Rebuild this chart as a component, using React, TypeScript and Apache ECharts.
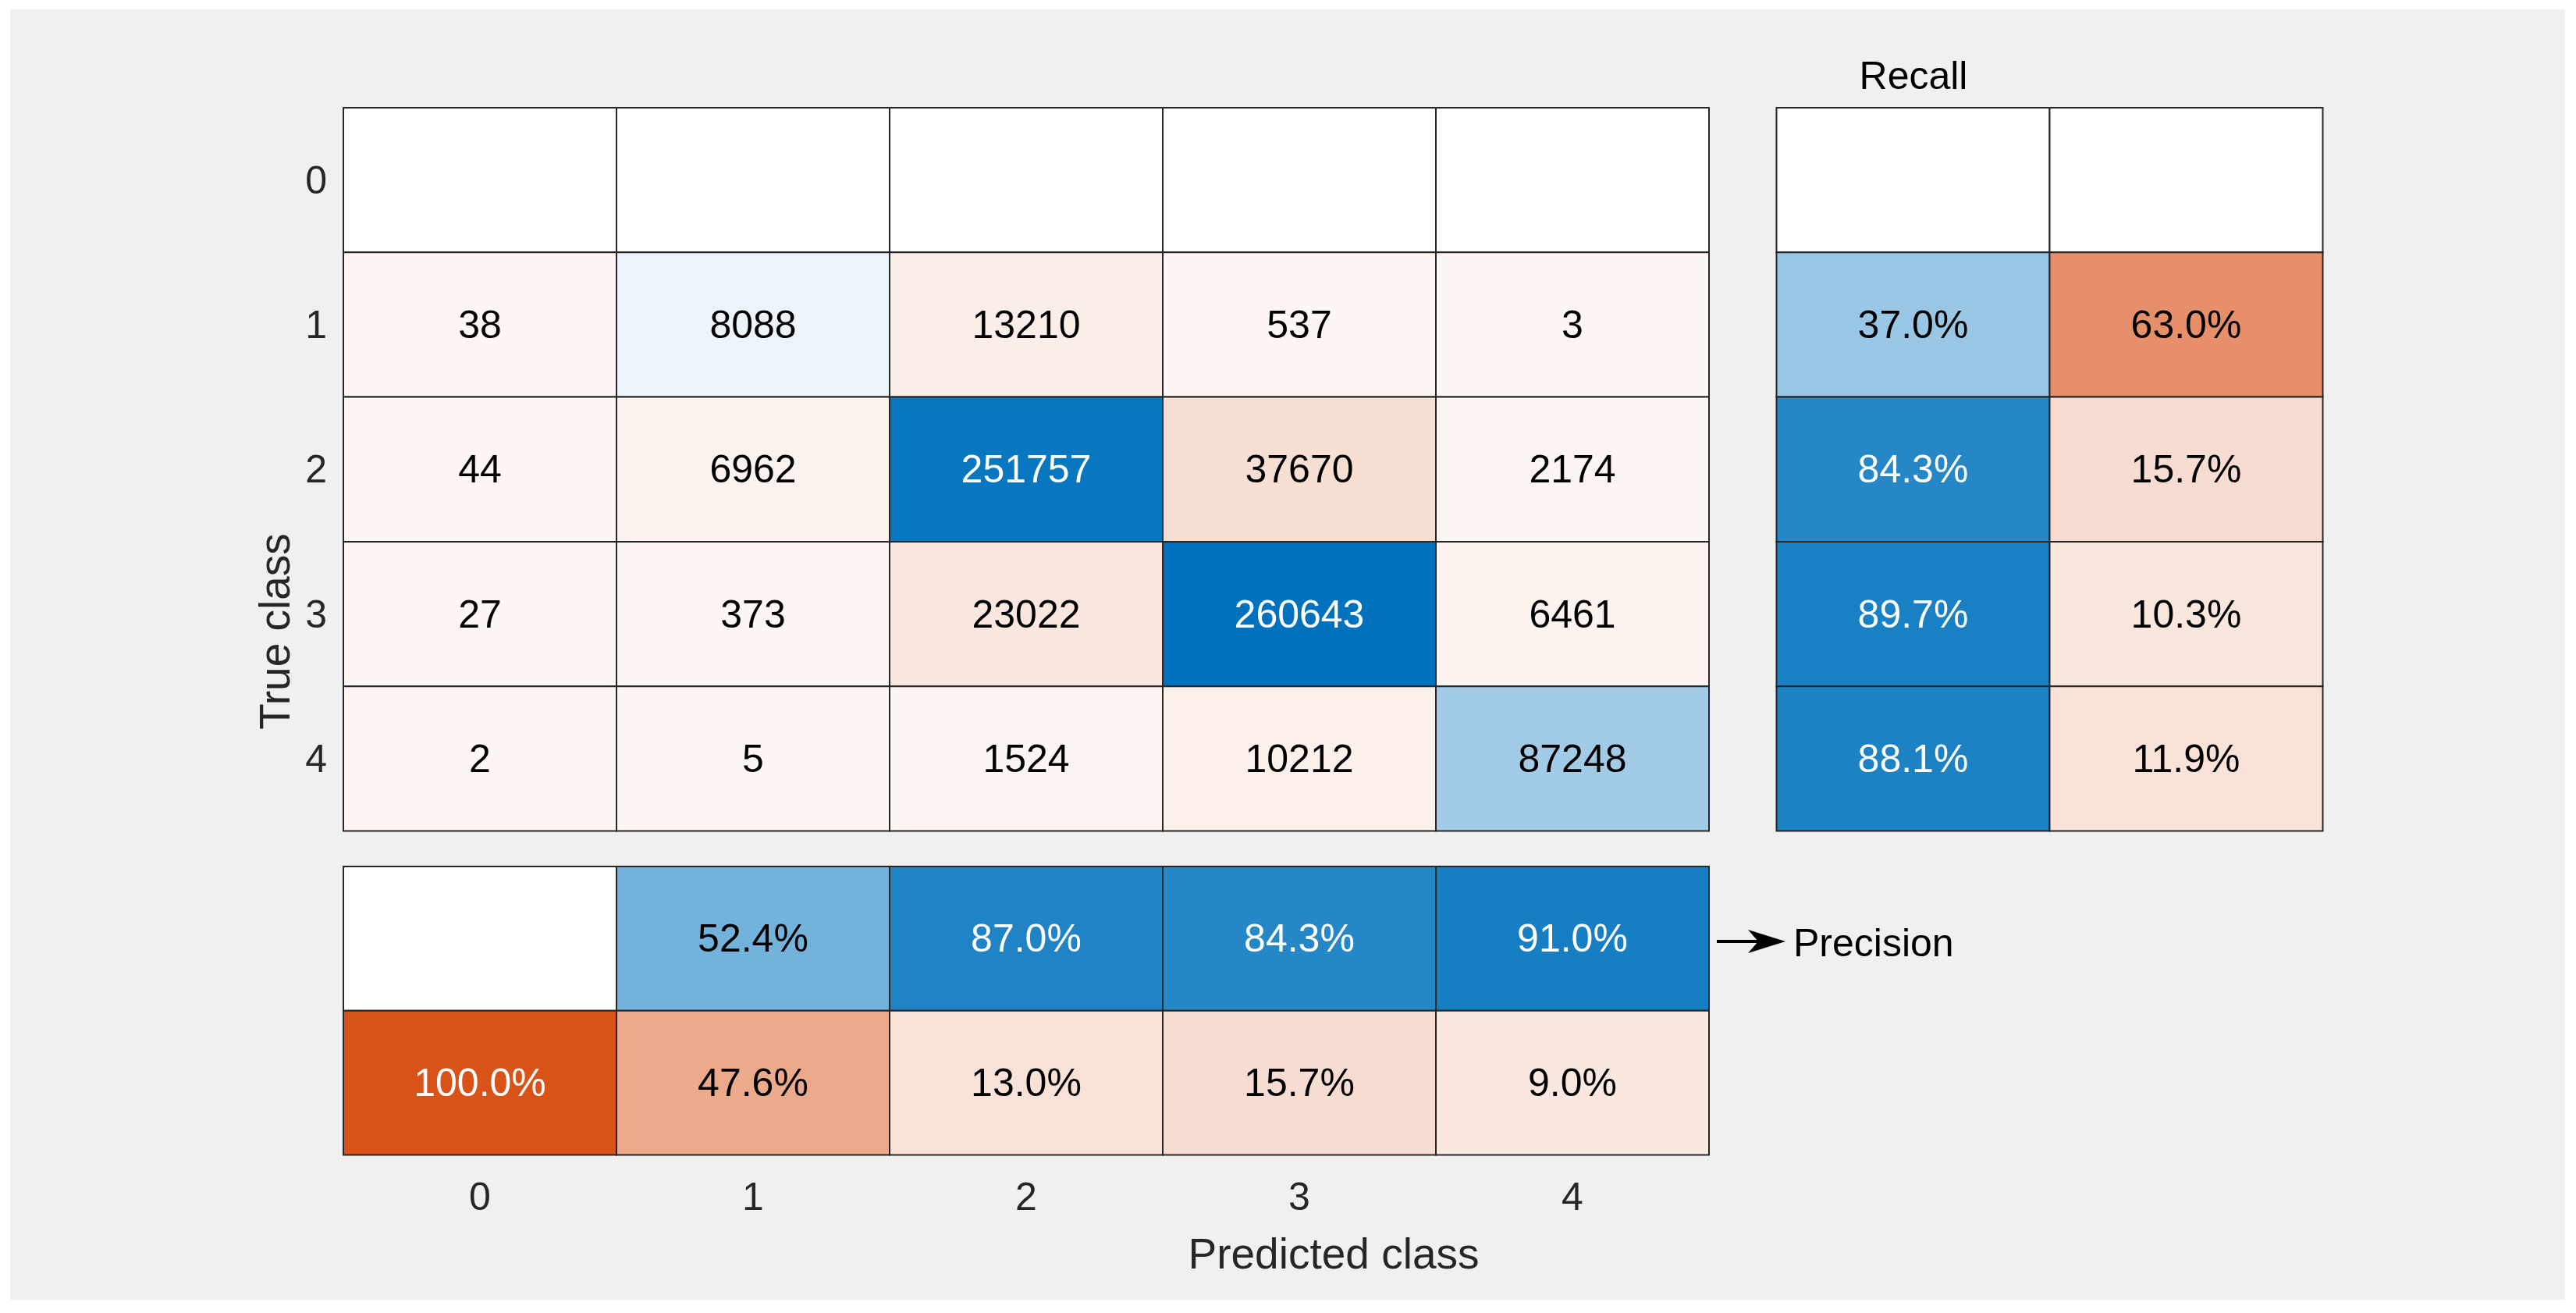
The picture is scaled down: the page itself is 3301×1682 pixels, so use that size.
import React, { useEffect, useRef } from "react";
import * as echarts from "echarts";

// ---------------- data ----------------
const classes = ["0", "1", "2", "3", "4"];
// rows = true class, columns = predicted class
const counts = [
  [0, 0, 0, 0, 0],
  [38, 8088, 13210, 537, 3],
  [44, 6962, 251757, 37670, 2174],
  [27, 373, 23022, 260643, 6461],
  [2, 5, 1524, 10212, 87248],
];
const recallTP: (number | null)[] = [null, 37.0, 84.3, 89.7, 88.1];
const recallFN: (number | null)[] = [null, 63.0, 15.7, 10.3, 11.9];
const precisionTP: number[] = [0, 52.4, 87.0, 84.3, 91.0];
const precisionFD: number[] = [100.0, 47.6, 13.0, 15.7, 9.0];

// ---------------- styling helpers ----------------
const BLUE = [0, 0.447, 0.741];
const ORANGE = [0.85, 0.325, 0.098];
const FONT = "'Liberation Sans', Arial, Helvetica, sans-serif";
const OX = 13;
const OY = 12;

function intensity(v: number | null, max: number) {
  if (v === null || !v) return 0;
  return 0.05 + 0.95 * (v / max);
}
function shade(v: number | null, max: number, base: number[]) {
  const t = intensity(v, max);
  const c = base.map((b) => Math.round(255 * (1 - t * (1 - b))));
  return `rgb(${c[0]},${c[1]},${c[2]})`;
}
type Cell = { value: number[]; fill: string; text: string; textColor: string };
function cell(x: number, y: number, v: number | null, max: number, base: number[], text: string): Cell {
  const t = intensity(v, max);
  return {
    value: [x, y, v === null ? 0 : v],
    fill: shade(v, max, base),
    text,
    textColor: t > 0.7 ? "#ffffff" : "#000000",
  };
}
const pct = (v: number | null) => (v === null || !v ? "" : v.toFixed(1) + "%");

export default function App() {
  const ref = useRef<HTMLDivElement>(null);

  useEffect(() => {
    if (!ref.current) return;
    const chart = echarts.init(ref.current, undefined, { renderer: "svg" });

    const maxCount = Math.max(...counts.flat());
    const mainData: Cell[] = [];
    counts.forEach((row, r) =>
      row.forEach((v, c) =>
        mainData.push(cell(c, r, v, maxCount, r === c ? BLUE : ORANGE, v ? String(v) : ""))
      )
    );
    const recallData: Cell[] = [];
    classes.forEach((_, r) => {
      recallData.push(cell(0, r, recallTP[r], 100, BLUE, pct(recallTP[r])));
      recallData.push(cell(1, r, recallFN[r], 100, ORANGE, pct(recallFN[r])));
    });
    const precData: Cell[] = [];
    classes.forEach((_, c) => {
      precData.push(cell(c, 0, precisionTP[c], 100, BLUE, pct(precisionTP[c])));
      precData.push(cell(c, 1, precisionFD[c], 100, ORANGE, pct(precisionFD[c])));
    });

    const hiddenAxis = {
      axisLine: { show: false },
      axisTick: { show: false },
      axisLabel: { show: false },
      splitLine: { show: false },
    };
    const tickLabel = { fontFamily: FONT, fontSize: 50, color: "#262626" };

    const cells = (xi: number, yi: number, data: Cell[]) => ({
      type: "custom",
      xAxisIndex: xi,
      yAxisIndex: yi,
      data: data.map((d) => d.value),
      silent: true,
      renderItem: (params: any, api: any) => {
        const d = data[params.dataIndex];
        const p = api.coord([api.value(0), api.value(1)]);
        const s = api.size([1, 1]);
        return {
          type: "group",
          children: [
            {
              type: "rect",
              shape: { x: p[0] - s[0] / 2, y: p[1] - s[1] / 2, width: s[0], height: s[1] },
              style: { fill: d.fill, stroke: "#262626", lineWidth: 2 },
            },
            {
              type: "text",
              x: p[0],
              y: p[1],
              style: {
                text: d.text,
                font: `50px ${FONT}`,
                fill: d.textColor,
                align: "center",
                verticalAlign: "middle",
              },
            },
          ],
        };
      },
    });

    chart.setOption({
      animation: false,
      backgroundColor: "#f0f0f0",
      grid: [
        { left: 440 - OX, top: 138 - OY, width: 1750, height: 926.5 },
        { left: 2276.5 - OX, top: 138 - OY, width: 700, height: 926.5 },
        { left: 440 - OX, top: 1110 - OY, width: 1750, height: 369.5 },
      ],
      xAxis: [
        { type: "category", gridIndex: 0, data: classes, ...hiddenAxis },
        { type: "category", gridIndex: 1, data: ["TP", "FN"], ...hiddenAxis },
        {
          type: "category",
          gridIndex: 2,
          data: classes,
          axisLine: { show: false },
          axisTick: { show: false },
          splitLine: { show: false },
          axisLabel: { ...tickLabel, margin: 28 },
        },
      ],
      yAxis: [
        {
          type: "category",
          gridIndex: 0,
          data: classes,
          inverse: true,
          axisLine: { show: false },
          axisTick: { show: false },
          splitLine: { show: false },
          axisLabel: { ...tickLabel, margin: 21 },
        },
        { type: "category", gridIndex: 1, data: classes, inverse: true, ...hiddenAxis },
        { type: "category", gridIndex: 2, data: ["TP", "FD"], inverse: true, ...hiddenAxis },
      ],
      series: [cells(0, 0, mainData), cells(1, 1, recallData), cells(2, 2, precData)],
      graphic: [
        {
          type: "text",
          x: 2452 - OX,
          y: 97 - OY,
          style: { text: "Recall", font: `50px ${FONT}`, fill: "#000000", align: "center", verticalAlign: "middle" },
        },
        {
          type: "text",
          x: 2298 - OX,
          y: 1208 - OY,
          style: { text: "Precision", font: `50px ${FONT}`, fill: "#000000", align: "left", verticalAlign: "middle" },
        },
        {
          type: "line",
          shape: { x1: 2200 - OX, y1: 1206 - OY, x2: 2254 - OX, y2: 1206 - OY },
          style: { stroke: "#000000", lineWidth: 4 },
        },
        {
          type: "polygon",
          shape: {
            points: [
              [2288 - OX, 1206 - OY],
              [2240 - OX, 1191 - OY],
              [2253 - OX, 1206 - OY],
              [2240 - OX, 1221 - OY],
            ],
          },
          style: { fill: "#000000" },
        },
        {
          type: "text",
          x: 352 - OX,
          y: 809 - OY,
          rotation: Math.PI / 2,
          style: { text: "True class", font: `55px ${FONT}`, fill: "#262626", align: "center", verticalAlign: "middle" },
        },
        {
          type: "text",
          x: 1709 - OX,
          y: 1606 - OY,
          style: { text: "Predicted class", font: `55px ${FONT}`, fill: "#262626", align: "center", verticalAlign: "middle" },
        },
      ],
    });

    return () => chart.dispose();
  }, []);

  return (
    <div
      ref={ref}
      style={{ position: "absolute", left: OX, top: OY, width: 3287 - OX, height: 1665 - OY }}
    />
  );
}
